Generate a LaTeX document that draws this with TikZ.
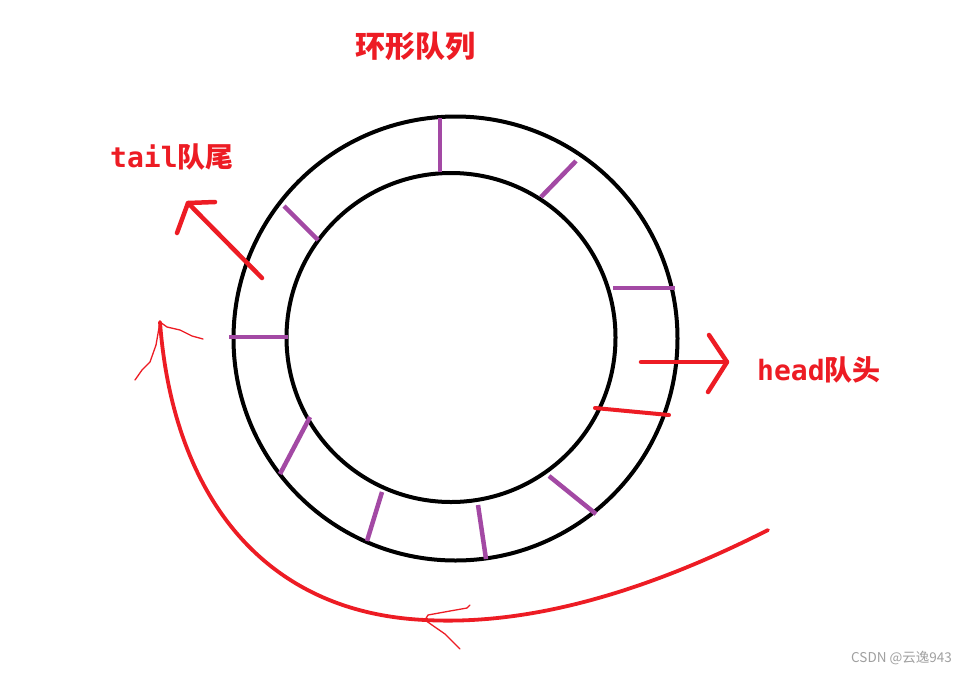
\documentclass[tikz,border=0pt]{standalone}
\usepackage{fontspec}
\newfontfamily\cjk{Noto Sans CJK SC}
\newfontfamily\mono{DejaVu Sans Mono}
\definecolor{pred}{HTML}{ED1C24}
\definecolor{tickpurple}{HTML}{A349A4}
\definecolor{wmgray}{HTML}{A0A0A0}
\begin{document}
\begin{tikzpicture}[x=1pt,y=-1pt,
 ring/.style={draw=black,line width=4pt},
 tick/.style={draw=tickpurple,line width=4.5pt},
 redline/.style={draw=pred,line width=4.5pt,line cap=round,line join=round},
 bigcurve/.style={draw=pred,line width=3.8pt,line cap=round},
 thinline/.style={draw=pred,line width=1.3pt,line cap=round,line join=round},
 lbl/.style={text=pred,inner sep=0pt,anchor=west,font=\fontsize{28}{30}\selectfont}]
\useasboundingbox[fill=white] (0,0) rectangle (973,675);
% rings
\coordinate (oc) at (455.5,338.5);
\coordinate (ic) at (451,337.5);
\draw[ring] (oc) circle[radius=222pt];
\draw[ring] (ic) circle[radius=164.5pt];
% purple ticks
\draw[tick] (440,118) -- (440,172);
\draw[tick] (576,161) -- (541,197);
\draw[tick] (613,288) -- (675,288);
\draw[tick] (549,476) -- (596,514);
\draw[tick] (478,505) -- (486,559);
\draw[tick] (382,492) -- (367,541);
\draw[tick] (310,417) -- (280,474);
\draw[tick] (229,337) -- (288,337);
\draw[tick] (284,206) -- (318,240);
% red tick
\draw[redline,line width=4pt] (595,408) -- (669,415);
% tail arrow
\coordinate (tailstart) at (262,278);
\coordinate (tailtip) at (188,203);
\draw[redline] (tailstart) -- (tailtip);
\draw[redline] (215,202) -- (tailtip) -- (177,233);
% head arrow
\coordinate (headstart) at (641,362);
\coordinate (headtip) at (727,362);
\draw[redline] (headstart) -- (headtip);
\draw[redline] (709,335) -- (headtip) -- (708,392);
% big rotation curve
\coordinate (cstart) at (768,530);
\coordinate (cmid) at (425,620);
\coordinate (cend) at (160,322);
\draw[bigcurve] (cstart) .. controls (610,610) and (500,624) .. (cmid)
  .. controls (255,612) and (172,485) .. (cend);
% sketchy arrowheads
\draw[thinline] (cend) -- (156,345) -- (150,362) -- (142,370) -- (135,380);
\draw[thinline] (cend) -- (167,327) -- (180,330) -- (192,336) -- (203,339);
\draw[thinline] (cmid) -- (428,615) -- (450,611) -- (467,608) -- (470,605);
\draw[thinline] (cmid) -- (432,625) -- (445,634) -- (455,644) -- (460,649);
% labels
\node[lbl,font=\fontsize{30}{32}\selectfont] (title) at (355,46) {\cjk\bfseries 环形队列};
\node[lbl] (taillbl) at (110,157) {{\mono\bfseries tail}{\cjk\bfseries 队尾}};
\node[lbl] (headlbl) at (757,370) {{\mono\bfseries head}{\cjk\bfseries 队头}};
\node[text=wmgray,inner sep=0pt,anchor=west,font=\cjk\fontsize{13.5}{15}\selectfont] (wm) at (851,658) {CSDN @云逸943};
\end{tikzpicture}
\end{document}
